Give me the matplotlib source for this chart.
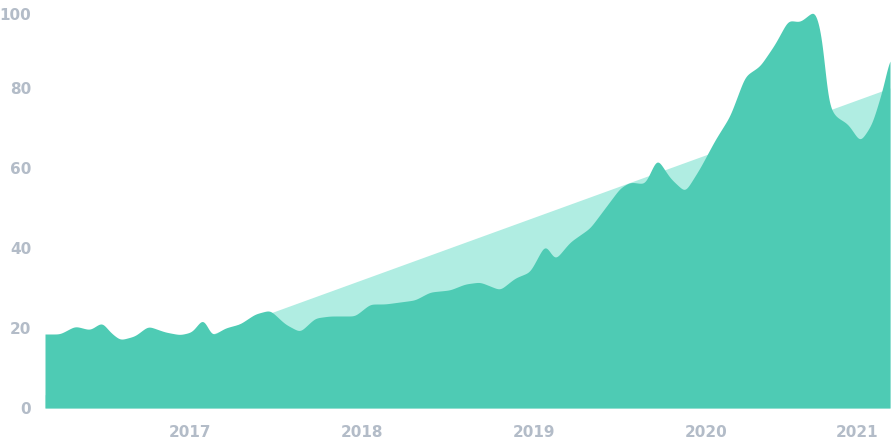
import numpy as np
import matplotlib.pyplot as plt

# pixel x positions, converted to years below
px = [45, 60, 75, 90, 102, 110, 120, 135, 148, 165, 180, 192, 203, 212, 225, 240, 255, 270,
      285, 300, 315, 330, 355, 370, 385, 400, 415, 430, 450, 465, 480, 500, 515, 530, 545,
      555, 570, 590, 605, 620, 630, 645, 657, 670, 685, 700, 715, 730, 745, 760, 775, 788,
      800, 815, 822, 828, 835, 848, 860, 872, 883, 890]
values = [18.5, 18.5, 20.5, 19.5, 21.5, 19, 17, 18, 20.5, 19, 18.3, 19, 22.5, 18, 20, 21, 23.5, 24.5,
          21, 19, 22.5, 23, 23, 26, 26, 26.5, 27, 29, 29.5, 31, 31.5, 29.5, 32.5, 34, 41,
          37, 41.5, 45, 50, 55, 56.5, 56, 62.5, 57.5, 54, 60, 67, 73, 83, 85.5, 91, 97,
          96.5, 99.5, 93, 76, 73, 71, 66.5, 71, 80, 88]
years = [2017 + (p - 190) / 172 for p in px]

trend_years = [years[0], years[-1]]
trend_values = [3.3, 80]

# light smoothing of the outline for rendering
xs = np.linspace(years[0], years[-1], 1200)
ys = np.interp(xs, years, values)
k = np.exp(-0.5 * (np.arange(-12, 13) / 4.0) ** 2)
k /= k.sum()
ys = np.convolve(np.pad(ys, 12, mode="edge"), k, mode="valid")

fig = plt.figure(figsize=(8.96, 4.48), dpi=100)
ax = fig.add_axes([45 / 896, 40 / 448, 845 / 896, 400 / 448])

ax.fill_between(trend_years, trend_values, color="#b0ede2", linewidth=0)
ax.fill_between(xs, ys, color="#4ecbb4", linewidth=0)

ax.set_xlim(years[0], years[-1])
ax.set_ylim(0, 100)
ax.set_xticks([2017, 2018, 2019, 2020, 2021])
ax.set_yticks(range(0, 101, 20))
for s in ax.spines.values():
    s.set_visible(False)
ax.tick_params(length=0, colors="#b3bcc8", labelsize=11)
ax.tick_params(axis="x", pad=12)
ax.tick_params(axis="y", pad=10)
for t in ax.get_xticklabels() + ax.get_yticklabels():
    t.set_fontweight("bold")
ax.get_xticklabels()[-1].set_ha("right")
ax.get_yticklabels()[-1].set_va("top")

fig.savefig("out.png")
